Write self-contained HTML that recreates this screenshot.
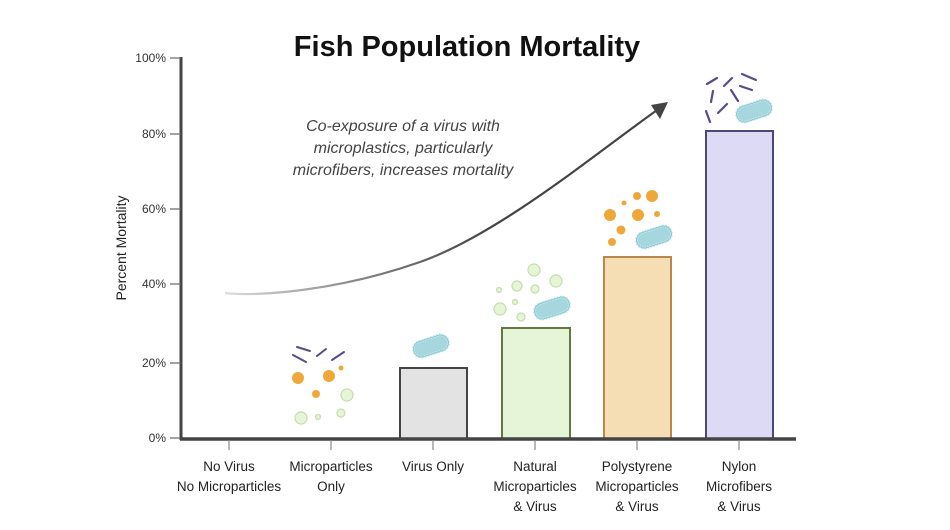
<!DOCTYPE html>
<html><head><meta charset="utf-8"><style>
html,body{margin:0;padding:0;background:#fff;}
svg{display:block;font-family:"Liberation Sans",sans-serif;}
</style></head><body>
<svg width="950" height="530" viewBox="0 0 950 530" xmlns="http://www.w3.org/2000/svg">
<rect width="950" height="530" fill="#fff"/>
<defs>
<linearGradient id="ag" x1="225" y1="0" x2="660" y2="0" gradientUnits="userSpaceOnUse">
<stop offset="0" stop-color="#ddd"/><stop offset="0.3" stop-color="#888"/><stop offset="0.6" stop-color="#444"/><stop offset="1" stop-color="#444"/>
</linearGradient>
<g id="vir">
<rect x="-18" y="-8" width="36" height="16" rx="8" fill="#a6d7de" stroke="#c8eaf0" stroke-width="3" stroke-dasharray="1.5 1.5"/>
<rect x="-18" y="-8" width="36" height="16" rx="8" fill="none" stroke="#8cc8d0" stroke-width="1"/>
</g>
</defs>
<text x="467" y="56" text-anchor="middle" font-size="29" font-weight="bold" fill="#111">Fish Population Mortality</text>
<line x1="181" y1="57" x2="181" y2="440" stroke="#444" stroke-width="3"/>
<g stroke="#666" stroke-width="1.2">
<line x1="170" y1="58" x2="181" y2="58"/><line x1="170" y1="134" x2="181" y2="134"/>
<line x1="170" y1="209" x2="181" y2="209"/><line x1="170" y1="284" x2="181" y2="284"/>
<line x1="170" y1="363" x2="181" y2="363"/><line x1="170" y1="438" x2="181" y2="438"/>
</g>
<g font-size="12" fill="#333" text-anchor="end">
<text x="166" y="62">100%</text><text x="166" y="138">80%</text><text x="166" y="213">60%</text>
<text x="166" y="288">40%</text><text x="166" y="367">20%</text><text x="166" y="442">0%</text>
</g>
<text transform="translate(126,248) rotate(-90)" text-anchor="middle" font-size="14" fill="#222">Percent Mortality</text>
<rect x="400" y="368" width="67" height="71" fill="#e3e3e3" stroke="#444" stroke-width="2"/>
<rect x="502" y="328" width="68" height="111" fill="#e6f5d8" stroke="#627a3e" stroke-width="2"/>
<rect x="604" y="257" width="67" height="182" fill="#f5deb3" stroke="#b8874a" stroke-width="2"/>
<rect x="706" y="131" width="67" height="308" fill="#dcdaf4" stroke="#4d4778" stroke-width="2"/>
<line x1="180" y1="439" x2="796" y2="439" stroke="#444" stroke-width="3.5"/>
<g stroke="#888" stroke-width="1.2">
<line x1="229" y1="440" x2="229" y2="450"/><line x1="331" y1="440" x2="331" y2="450"/>
<line x1="433" y1="440" x2="433" y2="450"/><line x1="535" y1="440" x2="535" y2="450"/>
<line x1="637" y1="440" x2="637" y2="450"/><line x1="739" y1="440" x2="739" y2="450"/>
</g>
<g font-size="13.5" fill="#222" text-anchor="middle">
<text x="229" y="471">No Virus</text><text x="229" y="491">No Microparticles</text>
<text x="331" y="471">Microparticles</text><text x="331" y="491">Only</text>
<text x="433" y="471">Virus Only</text>
<text x="535" y="471">Natural</text><text x="535" y="491">Microparticles</text><text x="535" y="511">&amp; Virus</text>
<text x="637" y="471">Polystyrene</text><text x="637" y="491">Microparticles</text><text x="637" y="511">&amp; Virus</text>
<text x="739" y="471">Nylon</text><text x="739" y="491">Microfibers</text><text x="739" y="511">&amp; Virus</text>
</g>
<path d="M225 293 C 260 297, 340 290, 420 262 S 600 150, 660 108" fill="none" stroke="url(#ag)" stroke-width="2.2"/>
<polygon points="668,102 651,105 660,119" fill="#444"/>
<g font-size="16" font-style="italic" fill="#444" text-anchor="middle">
<text x="403" y="131">Co-exposure of a virus with</text>
<text x="403" y="153">microplastics, particularly</text>
<text x="403" y="175">microfibers, increases mortality</text>
</g>
<use href="#vir" transform="translate(431,346) rotate(-18)"/>
<use href="#vir" transform="translate(552,308) rotate(-18)"/>
<use href="#vir" transform="translate(654,237) rotate(-18)"/>
<use href="#vir" transform="translate(754,111) rotate(-18)"/>
<g stroke="#5a4a8a" stroke-width="2" stroke-linecap="round">
<line x1="297" y1="347" x2="310" y2="351"/><line x1="293" y1="355" x2="306" y2="362"/>
<line x1="317" y1="356" x2="326" y2="349"/><line x1="332" y1="360" x2="344" y2="352"/>
</g>
<g fill="#f0a73a"><circle cx="298" cy="378" r="6"/><circle cx="329" cy="376" r="6"/><circle cx="316" cy="394" r="4"/><circle cx="341" cy="368" r="2.5"/></g>
<g fill="#e6f5d8" stroke="#c7dcab" stroke-width="1.2"><circle cx="347" cy="395" r="6"/><circle cx="301" cy="418" r="6"/><circle cx="318" cy="417" r="2.5"/><circle cx="341" cy="413" r="4"/></g>
<g fill="#e6f5d8" stroke="#c7dcab" stroke-width="1.2">
<circle cx="534" cy="270" r="6"/><circle cx="517" cy="286" r="5"/><circle cx="556" cy="281" r="6"/><circle cx="535" cy="289" r="4"/>
<circle cx="499" cy="290" r="2.5"/><circle cx="515" cy="302" r="2.5"/><circle cx="500" cy="309" r="6"/><circle cx="521" cy="317" r="4"/>
</g>
<g fill="#f0a73a">
<circle cx="637" cy="196" r="4"/><circle cx="652" cy="196" r="6"/><circle cx="624" cy="203" r="2.5"/>
<circle cx="610" cy="215" r="6"/><circle cx="638" cy="215" r="6"/><circle cx="657" cy="214" r="3"/>
<circle cx="621" cy="230" r="4.5"/><circle cx="612" cy="242" r="4"/>
</g>
<g stroke="#5a4a8a" stroke-width="2.2" stroke-linecap="round">
<line x1="707" y1="84" x2="717" y2="78"/><line x1="724" y1="86" x2="732" y2="78"/><line x1="742" y1="74" x2="756" y2="80"/>
<line x1="740" y1="86" x2="752" y2="90"/><line x1="713" y1="91" x2="711" y2="102"/><line x1="731" y1="90" x2="738" y2="101"/>
<line x1="718" y1="113" x2="727" y2="104"/><line x1="706" y1="111" x2="710" y2="122"/>
</g>
</svg>
</body></html>
